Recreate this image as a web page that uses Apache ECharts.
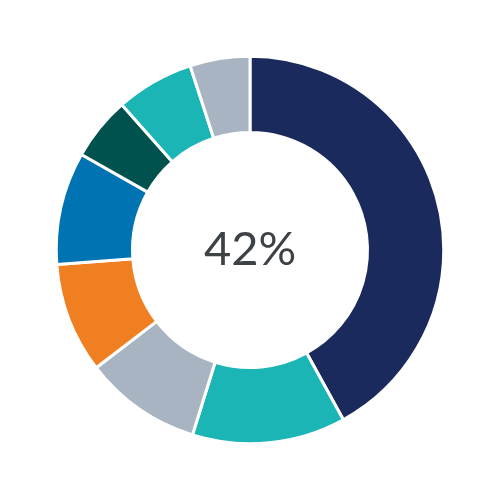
<!DOCTYPE html>
<html><head><meta charset="utf-8">
<script src="https://cdn.jsdelivr.net/npm/echarts@6/dist/echarts.min.js"></script>
<style>html,body{margin:0;padding:0;background:#fff}#c{width:500px;height:500px}</style>
</head><body><div id="c"></div>
<script>
const categories = ['A','B','C','D','E','F','G','H'];
const values = [42, 12.8, 9.8, 9.2, 9.4, 5.3, 6.5, 5.0];
const colors = ['#1b2a5c','#1bb5b5','#a9b4c2','#f07f22','#0073b3','#00524f','#1bb5b5','#a9b4c2'];
const centerLabel = '42%';
const chart = echarts.init(document.getElementById('c'));
chart.setOption({
  animation: false,
  title: { text: centerLabel, left: 'center', top: 'middle',
    textStyle: { fontFamily: 'Lato', fontWeight: 'normal', fontSize: 47, color: '#3d4247' } },
  series: [{
    type: 'pie', radius: ['47%', '77.5%'], center: ['50%', '50%'],
    startAngle: 90, clockwise: true, label: { show: false }, labelLine: { show: false },
    emphasis: { disabled: true },
    itemStyle: { borderColor: '#fff', borderWidth: 3 },
    data: categories.map((c, i) => ({ name: c, value: values[i], itemStyle: { color: colors[i] } }))
  }]
});
</script></body></html>
